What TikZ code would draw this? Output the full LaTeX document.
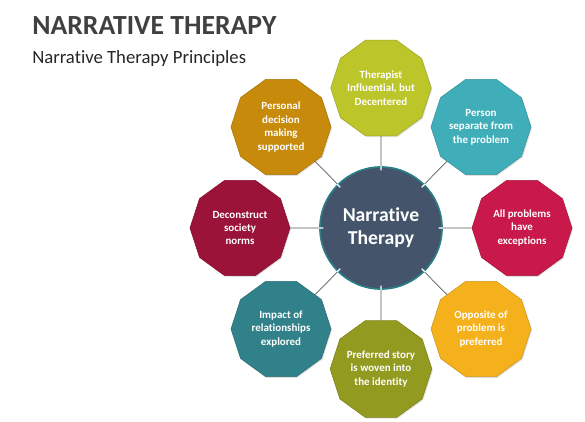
\documentclass[tikz,border=0pt]{standalone}
\usepackage{fontspec}
\setmainfont[Ligatures=NoCommon]{Carlito}
\usepackage{tikz}
\usetikzlibrary{shapes,shadows,positioning,calc}
\usepackage{xcolor}

\definecolor{hubfill}{HTML}{44546A}
\definecolor{hubline}{HTML}{2A7F86}
\definecolor{cLime}{HTML}{BCC62A}
\definecolor{cTeal}{HTML}{40AEB8}
\definecolor{cCrimson}{HTML}{C8194A}
\definecolor{cAmber}{HTML}{F5B11C}
\definecolor{cOlive}{HTML}{929A1F}
\definecolor{cPetrol}{HTML}{31818A}
\definecolor{cMaroon}{HTML}{9B1339}
\definecolor{cGold}{HTML}{C78A0A}
\definecolor{titlegray}{HTML}{404040}

\begin{document}
\begin{tikzpicture}[
  hub/.style={circle, draw=hubline, line width=1.2pt, fill=hubfill,
              minimum size=3.05cm, inner sep=0pt, text=white, align=center,
              font=\fontsize{14}{16.5}\selectfont\bfseries},
  petal/.style={regular polygon, regular polygon sides=10, minimum size=2.5cm,
                inner sep=0pt, text=white, align=center, line width=0.4pt,
                font=\fontsize{7.8}{9.5}\selectfont\bfseries,
                drop shadow={opacity=0.25, shadow xshift=0.7pt, shadow yshift=-0.9pt}},
  link/.style={draw=black!65, line width=0.5pt},
  notch/.style={draw=white, line width=0.9pt},
  font=\small
]
\useasboundingbox (0,0) rectangle (14.625,10.525);

% Titles
\node[anchor=base west, inner sep=0pt, text=titlegray,
      font=\fontsize{19.7}{21}\selectfont\bfseries] (title) at (0.8,9.65) {NARRATIVE THERAPY};
\node[anchor=base west, inner sep=0pt, text=black!85,
      font=\fontsize{13.3}{15}\selectfont] (subtitle) at (0.8,8.95) {Narrative Therapy Principles};

% Hub
\node[hub] (C) at (9.525,4.825) {Narrative\\Therapy};

% Principles around the hub
\node[petal, fill=cLime,    draw=cLime!85!black]    (T) at (9.525,8.325)  {Therapist\\Influential, but\\Decentered};
\node[petal, fill=cTeal,    draw=cTeal!85!black]    (P) at (12.025,7.35)  {Person\\separate from\\the problem};
\node[petal, fill=cCrimson, draw=cCrimson!85!black] (A) at (13.05,4.825)  {All problems\\have\\exceptions};
\node[petal, fill=cAmber,   draw=cAmber!85!black]   (O) at (12.025,2.3)   {Opposite of\\problem is\\preferred};
\node[petal, fill=cOlive,   draw=cOlive!85!black]   (S) at (9.525,1.3)    {Preferred story\\is woven into\\the identity};
\node[petal, fill=cPetrol,  draw=cPetrol!85!black]  (I) at (7.025,2.3)    {Impact of\\relationships\\explored};
\node[petal, fill=cMaroon,  draw=cMaroon!85!black]  (D) at (6.0,4.825)    {Deconstruct\\society\\norms};
\node[petal, fill=cGold,    draw=cGold!85!black]    (M) at (7.025,7.35)   {Personal\\decision\\making\\supported};

% Spokes
\draw[link] (T) -- (C);
\draw[link] (P) -- (C);
\draw[link] (A) -- (C);
\draw[link] (O) -- (C);
\draw[link] (S) -- (C);
\draw[link] (I) -- (C);
\draw[link] (D) -- (C);
\draw[link] (M) -- (C);

% Notches where the spokes meet the hub
\draw[notch] (C.90)  -- ++(270:3pt)  (C.45)  -- ++(225:3pt)
             (C.0)   -- ++(180:3pt)  (C.-45) -- ++(135:3pt)
             (C.-90) -- ++(90:3pt)   (C.-135)-- ++(45:3pt)
             (C.180) -- ++(0:3pt)    (C.135) -- ++(-45:3pt);
\end{tikzpicture}
\end{document}
